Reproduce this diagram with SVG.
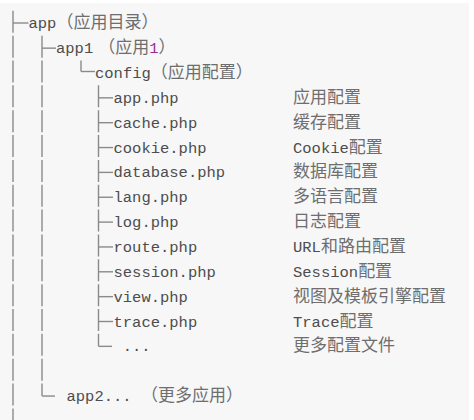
<svg xmlns="http://www.w3.org/2000/svg" width="474" height="420" viewBox="0 0 474 420">
<style>
.t{font-family:"Liberation Mono","Noto Sans CJK SC",monospace;font-size:15.5px;fill:#4d4d4d}
.c{font-family:"Noto Sans CJK SC",sans-serif;font-size:17px;fill:#6e6e6e}
.n{fill:#9c2a96}
.v{stroke:#8a8a8a;stroke-width:1.4;fill:none;stroke-dasharray:22 2.85}
.h{stroke:#8a8a8a;stroke-width:1.4;fill:none}
</style>
<rect x="0" y="0" width="474" height="420" fill="#ffffff"/>
<rect x="0" y="3" width="469" height="417" fill="#f7f7f8"/>
<g id="connectors">
<line class="v" x1="13" y1="10.8" x2="13" y2="420"/>
<line class="v" x1="42" y1="35.65" x2="42" y2="396.05"/>
<line class="v" x1="81" y1="60.5" x2="81" y2="71.5"/>
<line class="v" x1="98.5" y1="85.35" x2="98.5" y2="346.35"/>
<line class="h" x1="13" y1="23" x2="28.5" y2="23"/>
<line class="h" x1="42" y1="48.15" x2="56" y2="48.15"/>
<line class="h" x1="81" y1="71.5" x2="95" y2="71.5"/>
<line class="h" x1="98.5" y1="97.85" x2="113" y2="97.85"/>
<line class="h" x1="98.5" y1="122.7" x2="113" y2="122.7"/>
<line class="h" x1="98.5" y1="147.55" x2="113" y2="147.55"/>
<line class="h" x1="98.5" y1="172.4" x2="113" y2="172.4"/>
<line class="h" x1="98.5" y1="197.25" x2="113" y2="197.25"/>
<line class="h" x1="98.5" y1="222.1" x2="113" y2="222.1"/>
<line class="h" x1="98.5" y1="246.95" x2="113" y2="246.95"/>
<line class="h" x1="98.5" y1="271.8" x2="113" y2="271.8"/>
<line class="h" x1="98.5" y1="296.65" x2="113" y2="296.65"/>
<line class="h" x1="98.5" y1="321.5" x2="113" y2="321.5"/>
<line class="h" x1="98.5" y1="346.35" x2="112" y2="346.35"/>
<line class="h" x1="42" y1="396.05" x2="55" y2="396.05"/>
</g>
<g id="app"><text class="t" x="28.5" y="28.3">app<tspan class="c">（应用目录）</tspan></text></g>
<g id="app1"><text class="t" x="56" y="53.15">app1<tspan class="c" dx="5">（应用</tspan><tspan class="n">1</tspan><tspan class="c">）</tspan></text></g>
<g id="config"><text class="t" x="95" y="78">config<tspan class="c">（应用配置）</tspan></text></g>
<g id="app-php"><text class="t" x="113.5" y="102.85">app.php</text><text class="c" x="293" y="102.85">应用配置</text></g>
<g id="cache-php"><text class="t" x="113.5" y="127.7">cache.php</text><text class="c" x="293" y="127.7">缓存配置</text></g>
<g id="cookie-php"><text class="t" x="113.5" y="152.55">cookie.php</text><text class="t" x="293" y="152.55">Cookie<tspan class="c">配置</tspan></text></g>
<g id="database-php"><text class="t" x="113.5" y="177.4">database.php</text><text class="c" x="293" y="177.4">数据库配置</text></g>
<g id="lang-php"><text class="t" x="113.5" y="202.25">lang.php</text><text class="c" x="293" y="202.25">多语言配置</text></g>
<g id="log-php"><text class="t" x="113.5" y="227.1">log.php</text><text class="c" x="293" y="227.1">日志配置</text></g>
<g id="route-php"><text class="t" x="113.5" y="251.95">route.php</text><text class="t" x="293" y="251.95">URL<tspan class="c">和路由配置</tspan></text></g>
<g id="session-php"><text class="t" x="113.5" y="276.8">session.php</text><text class="t" x="293" y="276.8">Session<tspan class="c">配置</tspan></text></g>
<g id="view-php"><text class="t" x="113.5" y="301.65">view.php</text><text class="c" x="293" y="301.65">视图及模板引擎配置</text></g>
<g id="trace-php"><text class="t" x="113.5" y="326.5">trace.php</text><text class="t" x="293" y="326.5">Trace<tspan class="c">配置</tspan></text></g>
<g id="more"><text class="t" x="122.7" y="351.35">...</text><text class="c" x="293" y="351.35">更多配置文件</text></g>
<g id="app2"><text class="t" x="66.5" y="401.05" xml:space="preserve">app2... <tspan class="c">（更多应用）</tspan></text></g>
</svg>
